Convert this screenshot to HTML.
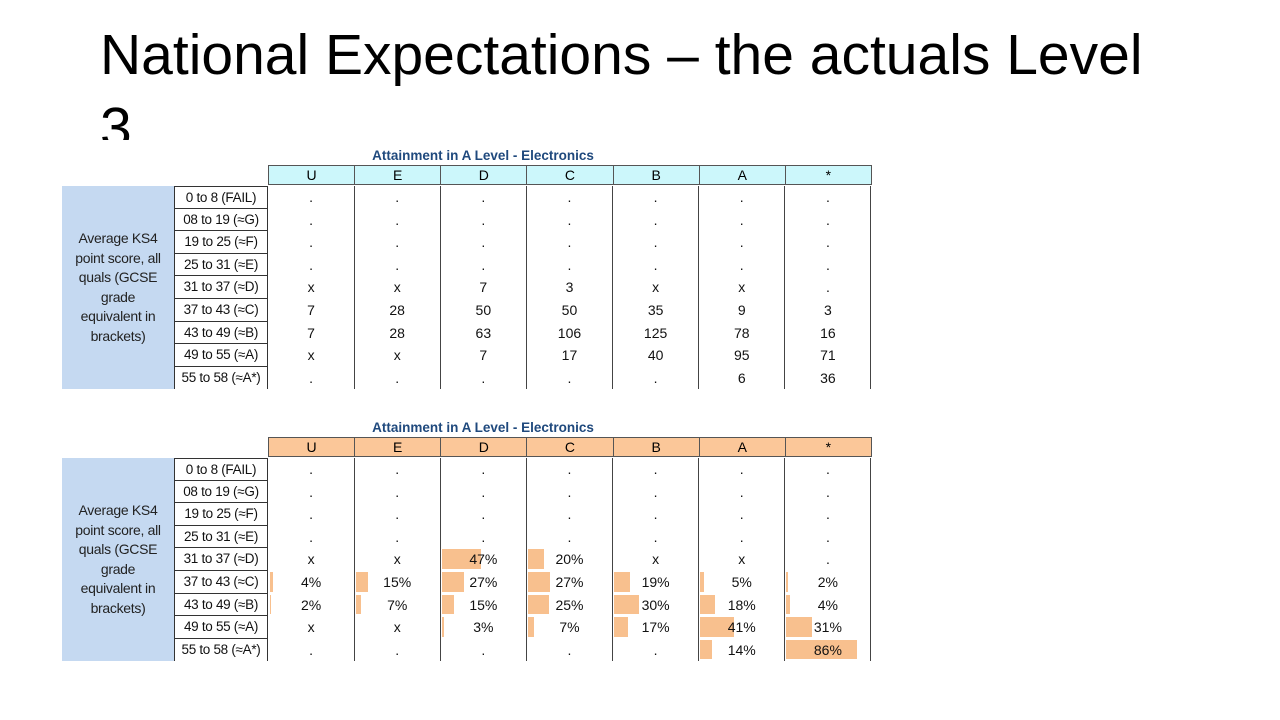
<!DOCTYPE html>
<html><head><meta charset="utf-8"><style>
body{margin:0;width:1280px;height:720px;background:#fff;position:relative;overflow:hidden;font-family:"Liberation Sans",Arial,sans-serif}
#title{position:absolute;left:100px;top:0;width:1085px;height:140px;overflow:hidden;font-size:57px;line-height:73px;color:#000}
#title span{display:block;margin-top:19px}
.abs{position:absolute;box-sizing:border-box}
.tt{font-weight:bold;color:#1f497d;font-size:13.5px;text-align:center}
.hd{font-size:14px;text-align:center;border:1px solid #555;border-right:none;line-height:19px}
.side{background:#c5d9f1;color:#222;font-size:14px;letter-spacing:-0.3px;text-align:center;display:flex;align-items:center;justify-content:center;line-height:19.5px}
.rl{font-size:13.5px;letter-spacing:-0.3px;text-align:center;border:1px solid #333;border-top:none;white-space:nowrap;color:#111}
.cell{font-size:14px;text-align:center;color:#111}
.vl{background:#444;width:1px}
.bar{background:#f8c08e}
</style></head><body>
<div id="title"><span>National Expectations – the actuals Level 3</span></div>
<div id="root"></div>
<script>
const grades=["U","E","D","C","B","A","*"];
const rowLabels=["0 to 8 (FAIL)","08 to 19 (≈G)","19 to 25 (≈F)","25 to 31 (≈E)","31 to 37 (≈D)","37 to 43 (≈C)","43 to 49 (≈B)","49 to 55 (≈A)","55 to 58 (≈A*)"];
const counts=[
[".",".",".",".",".",".","."],
[".",".",".",".",".",".","."],
[".",".",".",".",".",".","."],
[".",".",".",".",".",".","."],
["x","x","7","3","x","x","."],
["7","28","50","50","35","9","3"],
["7","28","63","106","125","78","16"],
["x","x","7","17","40","95","71"],
[".",".",".",".",".","6","36"]];
const pcts=[
[".",".",".",".",".",".","."],
[".",".",".",".",".",".","."],
[".",".",".",".",".",".","."],
[".",".",".",".",".",".","."],
["x","x",47,20,"x","x","."],
[4,15,27,27,19,5,2],
[2,7,15,25,30,18,4],
["x","x",3,7,17,41,31],
[".",".",".",".",".",14,86]];
const root=document.getElementById('root');
const colX=i=>268+i*86.14;
const colW=86.14;
function mk(cls,x,y,w,h,txt,name){const d=document.createElement('div');d.className='abs '+cls;d.style.left=x+'px';d.style.top=y+'px';d.style.width=w+'px';d.style.height=h+'px';if(txt!==undefined)d.textContent=txt;


root.appendChild(d);return d;}
function table(top,hdrColor,data,isPct,tag){
  mk('tt',268,top-17,430,16,'Attainment in A Level - Electronics',tag+'-title');
  const hTop=top, hH=20, rTop=top+21, rH=22.6;
  grades.forEach((g,i)=>{const h=mk('hd',colX(i),hTop,colW+(i==6?1:0),hH,g,tag+'-header-'+(g=='*'?'star':g));h.style.background=hdrColor;if(i==6)h.style.borderRight='1px solid #555';});
  mk('side',62,rTop,112,rH*9,'Average KS4 point score, all quals (GCSE grade equivalent in brackets)',tag+'-axis-title').style.padding='0 8px';
  rowLabels.forEach((l,r)=>{const e=mk('rl',174,rTop+r*rH,94,rH,l,tag+'-row-label');e.style.lineHeight=(rH-1)+'px';if(r==0)e.style.borderTop='1px solid #333';if(r==8)e.style.borderBottom='none';});
  for(let i=1;i<=7;i++){mk('vl',colX(i)-0.5,rTop,1,rH*9,undefined,tag+'-gridline');}
  data.forEach((row,r)=>row.forEach((v,c)=>{
    const y=rTop+r*rH;
    if(isPct&&typeof v==='number'){mk('bar',colX(c)+1.5,y+1,v*0.825,rH-3,undefined,tag+'-bar');}
    const t=mk('cell',colX(c),y,colW,rH,isPct&&typeof v==='number'?v+'%':v,tag+'-cell');t.style.lineHeight=rH+'px';
  }));
}
table(165,'#ccf7fb',counts,false,'counts');
table(437,'#fbc799',pcts,true,'percent');
</script>
</body></html>
